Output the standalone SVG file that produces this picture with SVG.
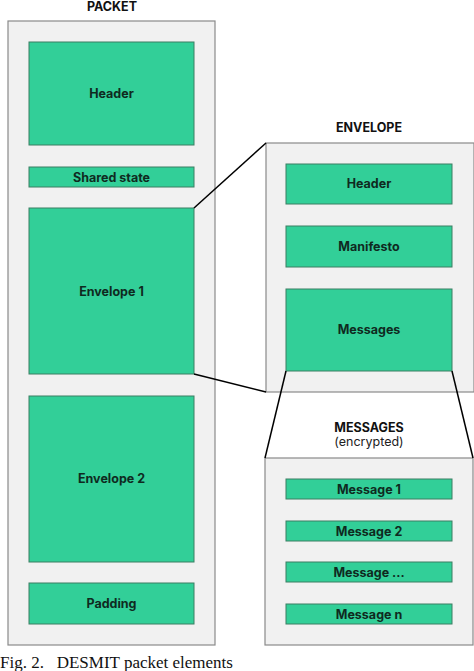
<svg xmlns="http://www.w3.org/2000/svg" width="474" height="671" viewBox="0 0 474 671">
<style>
.box{fill:#f1f1f1;stroke:#8a8a8a;stroke-width:1.2}
.g{fill:#32cf98;stroke:#3b7f63;stroke-width:1}
.t{font-family:Inter,"Liberation Sans",sans-serif;font-weight:700;font-size:12.5px;fill:#0f2a1f;text-anchor:middle}
.h{font-family:Inter,"Liberation Sans",sans-serif;font-weight:700;font-size:12.5px;fill:#111;text-anchor:middle}
.s{font-family:Inter,"Liberation Sans",sans-serif;font-size:12.5px;fill:#222;text-anchor:middle}
.c{stroke:#000;stroke-width:1.5;fill:none}
</style>
<rect width="474" height="671" fill="#fff"/>
<text class="h" x="112" y="11">PACKET</text>
<text class="h" x="369" y="132">ENVELOPE</text>
<text class="h" x="369" y="432">MESSAGES</text>
<text class="s" x="369" y="446">(encrypted)</text>
<g id="packet">
<rect class="box" x="8" y="21" width="207" height="624"/>
</g>
<g id="p-header"><rect class="g" x="29" y="42" width="165" height="103"/><text class="t" x="111.5" y="98">Header</text></g>
<g id="p-shared"><rect class="g" x="29" y="167" width="165" height="20"/><text class="t" x="111.5" y="182">Shared state</text></g>
<g id="p-env1"><rect class="g" x="29" y="208" width="165" height="166"/><text class="t" x="111.5" y="296">Envelope 1</text></g>
<g id="p-env2"><rect class="g" x="29" y="396" width="165" height="166"/><text class="t" x="111.5" y="483">Envelope 2</text></g>
<g id="p-padding"><rect class="g" x="29" y="583" width="165" height="41"/><text class="t" x="111.5" y="608">Padding</text></g>
<g id="envelope"><rect class="box" x="266" y="143" width="208" height="249"/></g>
<g id="e-header"><rect class="g" x="286" y="164" width="166" height="40"/><text class="t" x="369" y="188">Header</text></g>
<g id="e-manifesto"><rect class="g" x="286" y="226" width="166" height="41"/><text class="t" x="369" y="251">Manifesto</text></g>
<g id="e-messages"><rect class="g" x="286" y="289" width="166" height="82"/><text class="t" x="369" y="334">Messages</text></g>
<g id="messages"><rect class="box" x="265" y="458" width="208" height="187"/></g>
<g id="m1"><rect class="g" x="286" y="479" width="166" height="20"/><text class="t" x="369" y="494">Message 1</text></g>
<g id="m2"><rect class="g" x="286" y="521" width="166" height="20"/><text class="t" x="369" y="536">Message 2</text></g>
<g id="m3"><rect class="g" x="286" y="562" width="166" height="20"/><text class="t" x="369" y="577">Message ...</text></g>
<g id="mn"><rect class="g" x="286" y="604" width="166" height="20"/><text class="t" x="369" y="619">Message n</text></g>
<g id="connectors">
<path class="c" d="M194 208 L266 143"/>
<path class="c" d="M194 374 L266 392"/>
<path class="c" d="M286 371 L265 458"/>
<path class="c" d="M452 371 L473 458"/>
</g>
<text x="0" y="668" font-family="Liberation Serif,serif" font-size="17" fill="#111" xml:space="preserve">Fig. 2.   DESMIT packet elements</text>
</svg>
